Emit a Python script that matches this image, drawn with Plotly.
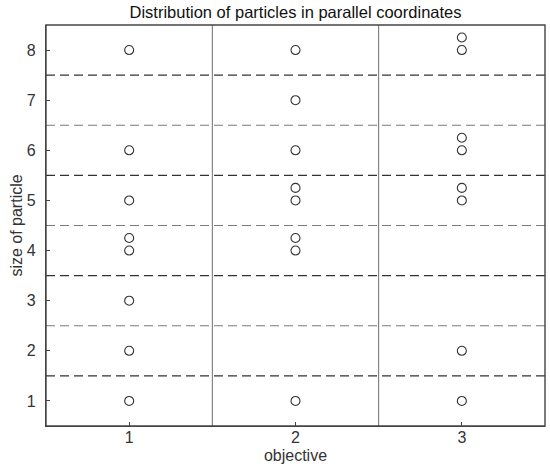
import plotly.graph_objects as go

# objectives and particle sizes
objectives = [1, 2, 3]
sizes_obj1 = [8, 6, 5, 4.25, 4, 3, 2, 1]
sizes_obj2 = [8, 7, 6, 5.25, 5, 4.25, 4, 1]
sizes_obj3 = [8.25, 8, 6.25, 6, 5.25, 5, 2, 1]
size_levels = [1, 2, 3, 4, 5, 6, 7, 8]

all_sizes = [sizes_obj1, sizes_obj2, sizes_obj3]

fig = go.Figure()

xs, ys = [], []
for obj, sizes in zip(objectives, all_sizes):
    xs += [obj] * len(sizes)
    ys += sizes

fig.add_trace(go.Scatter(
    x=xs, y=ys, mode='markers',
    marker=dict(symbol='circle-open', size=9, color='#333333',
                line=dict(width=1.1, color='#333333')),
    showlegend=False, cliponaxis=False,
))

# separators halfway between the levels
for a, b in zip(size_levels[:-1], size_levels[1:]):
    mid = (a + b) / 2
    dark = (a % 2 == 1)
    fig.add_shape(type='line', xref='paper', x0=0, x1=1, y0=mid, y1=mid,
                  line=dict(color='#333333' if dark else '#7a7a7a',
                            width=1.4 if dark else 1.1, dash='9px,5px'),
                  layer='below')

for a, b in zip(objectives[:-1], objectives[1:]):
    mid = (a + b) / 2
    fig.add_shape(type='line', yref='paper', y0=0, y1=1, x0=mid, x1=mid,
                  line=dict(color='#6e6e6e', width=1), layer='below')

# frame around the plot area
fig.add_shape(type='rect', xref='paper', yref='paper', x0=0, x1=1, y0=0, y1=1,
              line=dict(color='#444444', width=1.4))

axis_style = dict(
    showgrid=False, zeroline=False, showline=True, mirror=False,
    linecolor='#444444', linewidth=1.4, ticks='inside', ticklen=4,
    tickcolor='#444444', tickfont=dict(size=16, color='#333333'),
)

fig.update_layout(
    width=550, height=473,
    margin=dict(l=46, r=5, t=25, b=47),
    paper_bgcolor='white', plot_bgcolor='white',
    font=dict(family='Liberation Sans, Arial, sans-serif', color='#222222'),
    title=dict(text='Distribution of particles in parallel coordinates',
               x=0.5, xref='paper', xanchor='center', y=1 - 12 / 473, yanchor='middle',
               font=dict(size=16.5, color='#111111')),
    xaxis=dict(range=[0.5, 3.5], tickvals=objectives, ticklabelstandoff=-3,
               title=dict(text='objective', font=dict(size=16, color='#333333'), standoff=4),
               **axis_style),
    yaxis=dict(range=[0.5, 8.5], tickvals=size_levels, ticklabelstandoff=6,
               title=dict(text='size of particle', font=dict(size=16, color='#333333'), standoff=0),
               **axis_style),
)

# drop the default page margin so the figure sits at the window corner
fig.write_html("out.html", config={'displayModeBar': False},
               post_script="document.body.style.margin='0';")
